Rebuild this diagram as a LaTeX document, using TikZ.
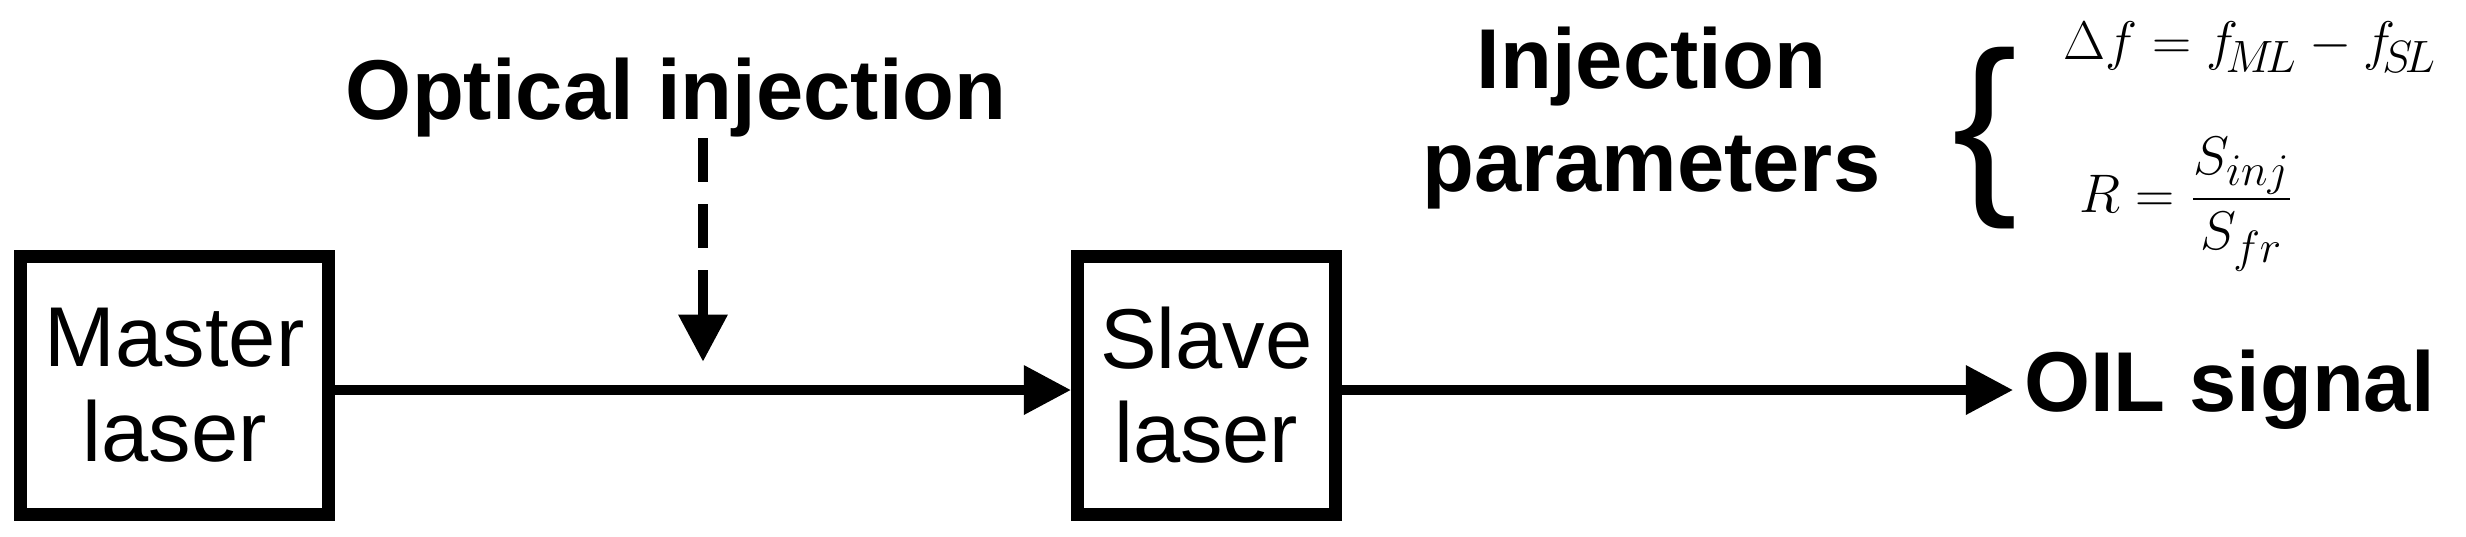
\documentclass[tikz,border=0pt]{standalone}
\usepackage{fontspec}
\setmainfont{Liberation Sans}
\newfontfamily\tms{Liberation Serif}
\usetikzlibrary{arrows.meta}
\begin{document}
\begin{tikzpicture}[x=0.5pt,y=-0.5pt,
 box/.style={draw,line width=4pt,minimum width=98pt,minimum height=82pt,align=center,font=\fontsize{27}{30}\selectfont},
 lbl/.style={font=\bfseries\fontsize{27}{33}\selectfont,align=center},
 arr/.style={line width=3pt,-{Triangle[length=15pt,width=15pt]}},
 fm/.style={font=\tms\itshape\fontsize{19}{22}\selectfont,anchor=west}]
\useasboundingbox (0,0) rectangle (1568,341);
\node[box] (m) at (111,245) {Master\\laser};
\node[box,minimum width=82pt] (s) at (767,245) {Slave\\laser};
\node[lbl,anchor=west] (o) at (1280,248) {OIL signal};
\node[lbl] (oi) at (430,62) {Optical injection};
\coordinate (d1) at (447,88);
\coordinate (d2) at (447,230);
\node[lbl] (ip) at (1050,75) {Injection\\parameters};
\node[font=\fontsize{62}{62}\selectfont] (br) at (1262,88) {\{};
\node[fm] (f1) at (1305,30) {$\Delta f = f_{\!M\!L} - f_{\!S\!L}$};
\node[fm] (f2) at (1315,130) {$R=\displaystyle\frac{S_{inj}}{S_{fr}}$};
\draw[arr] (m.east|-0,248) -- (s.west|-0,248);
\draw[arr] (s.east|-0,248) -- (o.west);
\draw[arr,dashed,dash pattern=on 14pt off 7pt] (d1) -- (d2);
\end{tikzpicture}
\end{document}
